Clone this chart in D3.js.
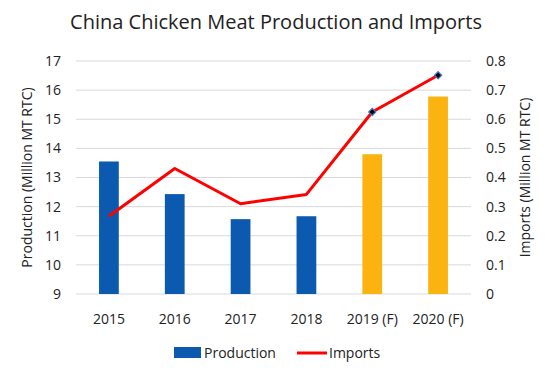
<!DOCTYPE html>
<html>
<head>
<meta charset="utf-8">
<script src="https://cdn.jsdelivr.net/npm/d3@7"></script>
<style>
  body { margin: 0; background: #fff; }
  text { font-family: "Open Sans", "Liberation Sans", sans-serif; fill: #222; }
</style>
</head>
<body>
<div id="chart"></div>
<script>
// data
const years = ["2015", "2016", "2017", "2018", "2019 (F)", "2020 (F)"];
const production = [13.55, 12.43, 11.57, 11.67, 13.8, 15.78];
const imports = [0.267, 0.431, 0.31, 0.342, 0.625, 0.751];
const forecast = [false, false, false, false, true, true];
const leftTicks = [9, 10, 11, 12, 13, 14, 15, 16, 17];
const rightTicks = [0, 0.1, 0.2, 0.3, 0.4, 0.5, 0.6, 0.7, 0.8];

const width = 552;
const height = 377;
const margin = {top: 61, right: 81, bottom: 83, left: 76};

const svg = d3.select("#chart")
    .append("svg")
    .attr("width", width)
    .attr("height", height);

const x = d3.scaleBand()
    .domain(years)
    .range([margin.left, width - margin.right])
    .paddingInner(0.7)
    .paddingOuter(0.35);

const yLeft = d3.scaleLinear()
    .domain([9, 17])
    .range([height - margin.bottom, margin.top]);

const yRight = d3.scaleLinear()
    .domain([0, 0.8])
    .range([height - margin.bottom, margin.top]);

// gridlines
svg.append("g")
    .selectAll("line")
    .data(leftTicks)
    .join("line")
    .attr("x1", margin.left)
    .attr("x2", width - margin.right)
    .attr("y1", d => yLeft(d))
    .attr("y2", d => yLeft(d))
    .attr("stroke", "#d9d9d9")
    .attr("stroke-width", 1);

// left axis labels
svg.append("g")
    .selectAll("text")
    .data(leftTicks)
    .join("text")
    .attr("x", margin.left - 15)
    .attr("y", d => yLeft(d))
    .attr("dy", "0.35em")
    .attr("text-anchor", "end")
    .style("font-size", "14px")
    .text(d => d);

// right axis labels
svg.append("g")
    .selectAll("text")
    .data(rightTicks)
    .join("text")
    .attr("x", width - margin.right + 15)
    .attr("y", d => yRight(d))
    .attr("dy", "0.35em")
    .attr("text-anchor", "start")
    .style("font-size", "14px")
    .text(d => d3.format("~g")(d));

// x labels
svg.append("g")
    .selectAll("text")
    .data(years)
    .join("text")
    .attr("x", d => x(d) + x.bandwidth() / 2)
    .attr("y", height - margin.bottom + 30)
    .attr("text-anchor", "middle")
    .style("font-size", "14px")
    .text(d => d);

// bars
svg.append("g")
    .selectAll("rect")
    .data(production)
    .join("rect")
    .attr("x", (d, i) => x(years[i]))
    .attr("width", x.bandwidth())
    .attr("y", d => yLeft(d))
    .attr("height", d => yLeft(9) - yLeft(d))
    .attr("fill", (d, i) => forecast[i] ? "#fbb30f" : "#0b5aaf");

// imports line
const line = d3.line()
    .x((d, i) => x(years[i]) + x.bandwidth() / 2)
    .y(d => yRight(d));

svg.append("path")
    .datum(imports)
    .attr("d", line)
    .attr("fill", "none")
    .attr("stroke", "#ff0000")
    .attr("stroke-width", 3)
    .attr("stroke-linejoin", "round");

// diamond markers on forecast points
svg.append("g")
    .selectAll("path")
    .data(imports.map((v, i) => ({v, i})).filter(d => forecast[d.i]))
    .join("path")
    .attr("d", d3.symbol(d3.symbolSquare, 26))
    .attr("transform", d => `translate(${x(years[d.i]) + x.bandwidth() / 2},${yRight(d.v)}) rotate(45)`)
    .attr("fill", "#000")
    .attr("stroke", "#4a78c8")
    .attr("stroke-width", 1.2);

// title
svg.append("text")
    .attr("x", width / 2)
    .attr("y", 29)
    .attr("text-anchor", "middle")
    .style("font-size", "20px")
    .text("China Chicken Meat Production and Imports");

// axis titles
svg.append("text")
    .attr("transform", `translate(27,${(margin.top + height - margin.bottom) / 2}) rotate(-90)`)
    .attr("text-anchor", "middle")
    .attr("dy", "0.35em")
    .style("font-size", "14px")
    .text("Production (Million MT RTC)");

svg.append("text")
    .attr("transform", `translate(525,${(margin.top + height - margin.bottom) / 2}) rotate(-90)`)
    .attr("text-anchor", "middle")
    .attr("dy", "0.35em")
    .style("font-size", "14px")
    .text("Imports (Million MT RTC)");

// legend
const legend = svg.append("g");
legend.append("rect")
    .attr("x", 174).attr("y", 347)
    .attr("width", 27).attr("height", 11)
    .attr("fill", "#0b5aaf");
legend.append("text")
    .attr("x", 204).attr("y", 353)
    .attr("dy", "0.35em")
    .style("font-size", "14px")
    .text("Production");
legend.append("line")
    .attr("x1", 297).attr("x2", 327)
    .attr("y1", 353).attr("y2", 353)
    .attr("stroke", "#ff0000")
    .attr("stroke-width", 3);
legend.append("text")
    .attr("x", 329).attr("y", 353)
    .attr("dy", "0.35em")
    .style("font-size", "14px")
    .text("Imports");
</script>
</body>
</html>
